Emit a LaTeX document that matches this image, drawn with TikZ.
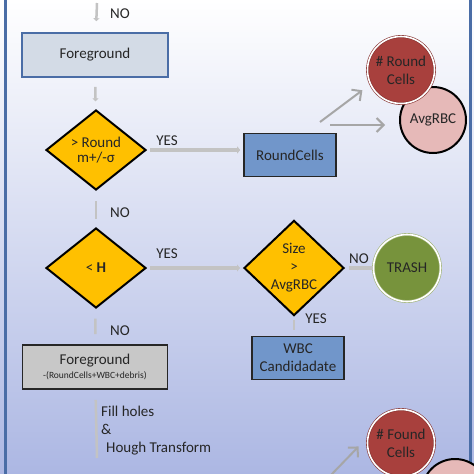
\documentclass[tikz,border=0pt]{standalone}
\usepackage{fontspec}
\setmainfont{Carlito}
\usetikzlibrary{arrows.meta,positioning,shapes.geometric}
\definecolor{fcFrame}{HTML}{4A6DA6}
\definecolor{fcBgLow}{HTML}{ACB7E3}
\definecolor{fcLight}{HTML}{D3DBE6}
\definecolor{fcBlue}{HTML}{7196CA}
\definecolor{fcGray}{HTML}{C8C8C8}
\definecolor{fcGold}{HTML}{FFC000}
\definecolor{fcRed}{HTML}{A8403D}
\definecolor{fcPink}{HTML}{E6B9B8}
\definecolor{fcGreen}{HTML}{77933C}
\definecolor{fcLine}{HTML}{C3C3C3}
\definecolor{fcText}{HTML}{262626}

\begin{document}
\begin{tikzpicture}[x=1pt,y=-1pt,font=\fontsize{15}{18}\selectfont,text=fcText,
        proc/.style={draw=black!85,line width=1.6pt,inner sep=0pt,
                   minimum width=92pt,minimum height=43pt,align=center},
        test/.style={diamond,draw=black,line width=2pt,fill=fcGold,inner sep=0pt,
                   minimum width=100pt,minimum height=80pt,align=center},
        cnt/.style={circle,minimum size=67pt,inner sep=0pt,align=center,
                   line width=0.6pt,double=white,double distance=1.6pt},
        avgc/.style={circle,minimum size=66pt,inner sep=0pt,draw=black,
                   line width=2pt,fill=fcPink},
        stub/.style={draw=fcLine,line width=2.5pt,-{Triangle[length=3pt,width=6pt]}},
        go/.style={draw=fcLine,line width=3.5pt,-{Triangle[length=3pt,width=7pt]}},
        outarr/.style={draw=black!35,line width=2pt,-{Straight Barb[length=7pt,width=14pt]}},
        lbl/.style={inner sep=0pt}]
        % background and frame
        \shade[top color=white,bottom color=fcBgLow] (0,0) rectangle (474,474);
        \useasboundingbox (0,0) rectangle (474,474);
        \clip (0,0) rectangle (474,474);
        \draw[fcFrame,line width=3pt] (5,0) -- (5,474);
        \draw[fcFrame,line width=3pt] (470,0) -- (470,474);
        % left column
        \coordinate (top) at (97,3);
        \node[proc,draw=fcFrame,fill=fcLight,minimum width=146pt,minimum height=44pt]
            (fg1) at (95,55) {Foreground};
        \node[test] (rnd) at (96,150) {\raisebox{-3pt}{\shortstack{{>} Round\\[1pt]m+/-σ}}};
        \node[test] (hue) at (96,268) {< \textbf{H}};
        \node[proc,fill=fcGray,minimum width=145pt,minimum height=44pt] (fg2) at (95,367)
            {Foreground\\[-4pt]{\fontsize{9.5}{11}\selectfont -(RoundCells+WBC+debris)}};
        \coordinate (fgend) at (97,458);
        % right column
        \node[proc,fill=fcBlue] (roundc) at (290,155) {RoundCells};
        \node[test] (size) at (294,268) {Size\\{>}\\AvgRBC};
        \node[proc,fill=fcBlue] (wbc) at (298,358) {WBC\\Candidadate};
        \node[avgc] (avg) at (433,120) {AvgRBC};
        \node[cnt,draw=fcRed!80!black,fill=fcRed] (ncells) at (401,70) {\# Round\\Cells};
        \node[cnt,draw=fcGreen!70!white,fill=fcGreen] (trash) at (407,268) {TRASH};
        \node[avgc] (avgb) at (455,492) {};
        \node[cnt,draw=fcRed!80!black,fill=fcRed] (nfound) at (401,443) {\# Found\\Cells};
        \coordinate (a1) at (320,122);
        \coordinate (a2) at (330,125);
        \coordinate (a3) at (330,476);
        % connectors
        \draw[stub,shorten >=11pt] (top) -- (fg1);
        \draw[stub,shorten <=9pt,shorten >=8pt] (fg1) -- (rnd);
        \draw[stub,-,shorten <=10pt,shorten >=8pt] (rnd) -- (hue);
        \draw[stub,-,shorten <=10pt,shorten >=10pt] (hue) -- (fg2);
        \draw[stub,-,shorten <=10pt] (fg2) -- (fgend);
        \draw[go,shorten <=3pt,shorten >=3pt] (rnd) -- (roundc.west |- rnd);
        \draw[go,shorten <=3pt,shorten >=3pt] (hue) -- (size);
        \draw[go,-,shorten <=4pt] (size) -- (trash);
        \draw[stub,-,shorten <=3pt,shorten >=6pt] (size) -- (size |- wbc.north);
        \draw[outarr,shorten >=10pt] (a1) -- (ncells.205);
        \draw[outarr,shorten >=14pt] (a2) -- (a2 -| avg.west);
        \draw[outarr,shorten >=13pt] (a3) -- (nfound.170);
        % labels
        \node[lbl] at (120,14) {NO};
        \node[lbl] at (167,141) {YES};
        \node[lbl] at (120,213) {NO};
        \node[lbl] at (167,254) {YES};
        \node[lbl] at (120,331) {NO};
        \node[lbl] at (359,259) {NO};
        \node[lbl] at (316,319) {YES};
        \node[lbl,anchor=north west,align=left] at (101,406)
            {Fill holes\\\&\\\hspace{5pt}Hough Transform};
      \end{tikzpicture}
\end{document}
